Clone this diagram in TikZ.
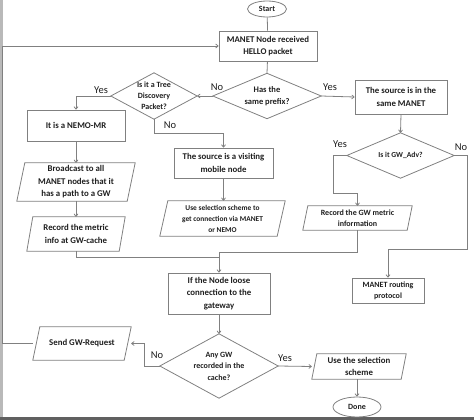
\documentclass[tikz,border=0pt]{standalone}
\usepackage{fontspec}
\setmainfont{Carlito}
\usetikzlibrary{shapes.geometric,arrows.meta}
\definecolor{lc}{HTML}{808080}
\definecolor{tc}{HTML}{1E1E1E}
\newcommand{\myfs}[2]{\fontsize{#1}{#2}\selectfont}
\begin{document}
\begin{tikzpicture}[x=1pt,y=-1pt,
  line/.style={draw=lc, line width=0.8pt},
  arr/.style={line, -{To[length=3.2pt,width=4.5pt]}},
  txt/.style={rectangle, inner sep=1pt, align=center, text=tc, font=\myfs{8.8}{12.5}\bfseries},
  box/.style={txt, draw=lc, line width=0.8pt},
  flat/.style={txt, draw=none},
  oval/.style={ellipse, draw=lc, line width=0.8pt, inner sep=0pt, text=tc, font=\myfs{8}{10}\bfseries},
  lbl/.style={text=tc, font=\myfs{10.5}{12}, inner sep=0pt}
]
\useasboundingbox (0,0) rectangle (474,420);
% frame bars
\fill[gray!55] (0,0) rectangle (2.5,417);
\fill[gray!75!black] (0,416.5) rectangle (474,420);

% ovals
\node[oval, minimum width=39pt, minimum height=16pt] (st) at (267,9) {Start};
\node[oval, minimum width=48pt, minimum height=20pt] (dn) at (357,407) {Done};

% rectangles
\node[box, minimum width=98pt, minimum height=30pt] (mn) at (268,46) {MANET Node received\\HELLO packet};
\node[box, minimum width=98pt, minimum height=31pt] (nm) at (76,125.5) {It is a NEMO-MR};
\node[box, minimum width=99pt, minimum height=30pt] (sv) at (223.5,163) {The source is a visiting\\mobile node};
\node[box, minimum width=92pt, minimum height=34pt] (sm) at (401,97) {The source is in the\\same MANET};
\node[box, minimum width=102pt, minimum height=41pt] (nl) at (219,293.5) {If the Node loose\\connection to the\\gateway};
\node[box, minimum width=72pt, minimum height=25pt, font=\myfs{8}{11}\bfseries] (mr) at (388,290.5) {MANET routing\\protocol};

% parallelograms (text holders)
\node[flat, minimum width=118pt, minimum height=38pt] (bc) at (76,182) {Broadcast to all\\MANET nodes that it\\has a path to a GW};
\node[flat, minimum width=98pt, minimum height=34pt] (rm) at (76,234) {Record the metric\\info at GW-cache};
\node[flat, minimum width=125pt, minimum height=35pt, font=\myfs{7.4}{11}\bfseries] (us) at (222.5,218.5) {Use selection scheme to\\get connection via MANET\\or NEMO};
\node[flat, minimum width=109pt, minimum height=24pt, font=\myfs{8}{11}\bfseries] (rg) at (357.5,218) {Record the GW metric\\information};
\node[flat, minimum width=98pt, minimum height=33pt] (sg) at (82,343.5) {Send GW-Request};
\node[flat, minimum width=94pt, minimum height=25pt] (ut) at (359,366.5) {Use the selection\\scheme};
\foreach \n/\s in {bc/8,rm/6,us/8,rg/5,sg/7,ut/5}
  \draw[line] ([xshift=\s pt]\n.north west) -- (\n.north east) -- ([xshift=-\s pt]\n.south east) -- (\n.south west) -- cycle;

% diamonds (text holders)
\node[flat, minimum width=108pt, minimum height=45pt, font=\myfs{8.5}{12}\bfseries] (hp) at (267,96) {Has the\\same prefix?};
\node[flat, minimum width=86pt, minimum height=46pt, font=\myfs{8}{11}\bfseries] (td) at (154,96) {Is it a Tree\\Discovery\\Packet?};
\node[flat, minimum width=107pt, minimum height=45pt, font=\myfs{7.6}{10}\bfseries] (ga) at (400.5,155.5) {Is it GW\_Adv?};
\node[flat, minimum width=118pt, minimum height=64pt, font=\myfs{8}{11.5}\bfseries] (ag) at (219,366) {Any GW\\recorded in the\\cache?};
\foreach \n in {hp,td,ga,ag}
  \draw[line] (\n.north) -- (\n.east) -- (\n.south) -- (\n.west) -- cycle;

% connectors
\draw[line] (st) -- (mn);
\draw[line] (mn) -- (hp.north);
\draw[arr] (hp.west) -- (td.east);
\draw[arr] (td.west) -| (nm.north);
\coordinate (j1) at (154,133);
\draw[arr] (td.south) -- (j1) -| (sv.north);
\draw[arr] (nm) -- (bc);
\draw[arr] (bc) -- (rm);
\draw[arr] (sv.south) -- (sv.south |- us.north);
\draw[arr] (hp.east) -- (sm.west);
\draw[arr] (sm.south) -- (ga.north);
\coordinate (j2) at (333,193);
\draw[arr] (ga.west) -| (j2) -| (rg.north);
\coordinate (j3) at (467,249);
\draw[arr] (ga.east) -| (j3) -| (mr.north);
\coordinate (j4) at (357,252);
\draw[arr] (rg.south -| j4) -- (j4) -| (nl.north);
\coordinate (j5) at (219,257);
\draw[line] (rm.south) |- (j5);
\draw[arr] (nl) -- (ag.north);
\coordinate (j6) at (144,343.5);
\draw[arr] (ag.west) -| (j6) -- (sg.east);
\coordinate (j7) at (2.5,343.5);
\draw[arr] (sg.west) -- (j7) |- (mn.west);
\draw[arr] (ag.east) -- (ut.west);
\draw[arr] (ut.south -| dn.north) -- (dn.north);

% labels
\node[lbl] (l1) at (217,87) {No};
\node[lbl] (l2) at (101,90) {Yes};
\node[lbl] (l3) at (170,125) {No};
\node[lbl] (l4) at (330,87) {Yes};
\node[lbl] (l5) at (340,144) {Yes};
\node[lbl] (l6) at (461,147) {No};
\node[lbl] (l7) at (157,355) {No};
\node[lbl] (l8) at (285,358) {Yes};
\end{tikzpicture}
\end{document}
